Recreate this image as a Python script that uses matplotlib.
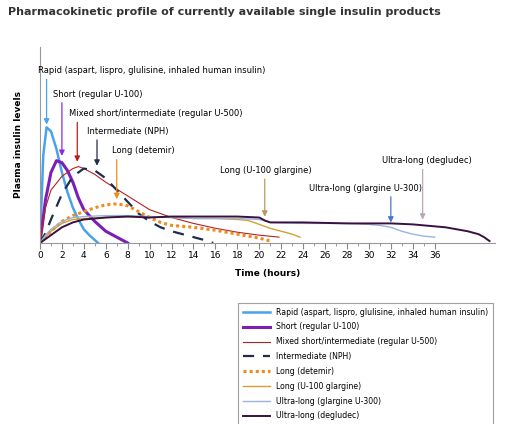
import matplotlib.pyplot as plt
import numpy as np

# hours and relative plasma insulin levels
rapid_t = [0, 0.3, 0.6, 1.0, 1.5, 2.0, 2.5, 3.0, 3.5, 4.0, 4.5, 5.0, 5.3]
rapid_v = [0, 45, 59, 57, 48, 36, 26, 18, 12, 7, 4, 1.5, 0]

short_t = [0, 0.5, 1.0, 1.5, 2.0, 2.5, 3.0, 3.5, 4.0, 5.0, 6.0, 7.0, 8.0]
short_v = [0, 22, 36, 42, 41, 37, 31, 23, 17, 11, 6, 3, 0]

mixed_t = [0, 0.5, 1.0, 2.0, 3.0, 3.5, 4.0, 5.0, 6.0, 8.0, 10.0, 12.0, 14.0, 16.0, 18.0, 20.0, 21.8]
mixed_v = [0, 18, 27, 34, 38, 39, 38, 35, 31, 24, 17, 13, 10, 7.5, 5.5, 4, 3]

nph_t = [0, 0.5, 1.0, 2.0, 3.0, 4.0, 5.0, 6.0, 7.0, 8.0, 9.0, 10.0, 11.0, 12.0, 13.0, 14.0, 15.0, 15.8]
nph_v = [0, 5, 12, 25, 34, 38, 37, 33, 27, 21, 15, 11, 8, 6, 4.5, 3, 1.5, 0]

detemir_t = [0, 1, 2, 3, 4, 5, 6, 7, 8, 9, 10, 11, 12, 14, 16, 18, 20, 21]
detemir_v = [0, 6, 11, 14, 16, 18, 19.5, 20, 19, 16, 13, 10.5, 9, 8, 6.5, 4.5, 2.5, 1]

glar_t = [0, 0.5, 1, 2, 3, 4, 6, 8, 10, 12, 14, 16, 18, 19, 20, 21, 22, 23, 23.7]
glar_v = [0, 3, 6, 10, 12, 12.5, 13, 13.5, 13.5, 13, 12.5, 12.5, 12, 11.5, 9.5, 7.5, 6, 4.5, 3]

u300_t = [0, 0.5, 1, 2, 3, 4, 6, 8, 10, 12, 14, 16, 18, 20, 21, 24, 28, 30, 31, 32, 33, 34, 35, 36]
u300_v = [0, 4, 7, 11, 13, 13.5, 14, 14, 13.5, 13, 12.5, 12.5, 12.5, 12, 10.5, 10, 10, 9.5, 9, 8, 6, 4.5, 3.5, 3]

degl_t = [0, 0.5, 1, 2, 3, 4, 6, 8, 10, 12, 14, 16, 18, 20, 20.5, 21, 24, 28, 32, 34, 35, 36, 37, 38, 39, 40, 40.5, 41]
degl_v = [0, 2, 4, 8, 10.5, 12, 13, 13.5, 13, 13.5, 13.5, 13.5, 13.5, 13, 11.5, 10.5, 10.5, 10, 10, 9.5, 9, 8.5, 8, 7, 6, 4.5, 3, 1]

series = [
    ("Rapid (aspart, lispro, glulisine, inhaled human insulin)", rapid_t, rapid_v, "#4aa3e8", 1.8, "-"),
    ("Short (regular U-100)", short_t, short_v, "#7b1fb8", 2.2, "-"),
    ("Mixed short/intermediate (regular U-500)", mixed_t, mixed_v, "#b22222", 0.8, "-"),
    ("Intermediate (NPH)", nph_t, nph_v, "#1f2d4d", 1.6, (0, (5, 4))),
    ("Long (detemir)", detemir_t, detemir_v, "#f08a1c", 2.2, (0, (1, 1))),
    ("Long (U-100 glargine)", glar_t, glar_v, "#d4a030", 1.0, "-"),
    ("Ultra-long (glargine U-300)", u300_t, u300_v, "#9ab4e0", 1.0, "-"),
    ("Ultra-long (degludec)", degl_t, degl_v, "#3a1040", 1.4, "-"),
]

# label text, text position, arrow tip, arrow colour
notes = [
    ("Rapid (aspart, lispro, glulisine, inhaled human insulin)", (-0.2, 88), (0.6, 59), "#4aa3e8"),
    ("Short (regular U-100)", (1.2, 76), (2.0, 43), "#8a2be2"),
    ("Mixed short/intermediate (regular U-500)", (2.6, 66), (3.4, 40), "#b22222"),
    ("Intermediate (NPH)", (4.3, 57), (5.2, 38), "#1f2d4d"),
    ("Long (detemir)", (6.6, 47), (7.0, 21), "#f08a1c"),
    ("Long (U-100 glargine)", (16.4, 37), (20.5, 12), "#b89a60"),
    ("Ultra-long (glargine U-300)", (24.5, 28), (32, 9), "#4a78c8"),
    ("Ultra-long (degludec)", (31.2, 42), (34.9, 10.5), "#b8a8b8"),
]

fig = plt.figure(figsize=(5.12, 4.24), dpi=100)
ax = fig.add_axes([40 / 512, 1 - 243 / 424, 455 / 512, 196 / 424])

for label, t, v, c, lw, ls in series:
    ax.plot(t, v, color=c, lw=lw, ls=ls, label=label)

for txt, xy_text, xy, c in notes:
    ax.annotate("", xy=xy, xytext=(xy[0], xy_text[1] - 3),
                arrowprops=dict(arrowstyle="-|>", color=c, lw=0.9, mutation_scale=8))
    ax.text(xy_text[0], xy_text[1], txt, fontsize=6, va="center", ha="left")

ax.set_xlim(0, 41.5)
ax.set_ylim(0, 100)
ax.set_xticks(np.arange(0, 37, 2))
ax.set_xticks(np.arange(0, 37, 1), minor=True)
ax.tick_params(axis="x", labelsize=6.5, length=4, color="#888888", pad=2)
ax.tick_params(axis="x", which="minor", length=2.5, color="#888888")
ax.set_yticks([])
for s in ["top", "right"]:
    ax.spines[s].set_visible(False)
ax.spines["left"].set_color("#999999")
ax.spines["bottom"].set_color("#999999")
ax.set_xlabel("Time (hours)", fontsize=6.5, fontweight="bold", labelpad=6)
ax.set_ylabel("Plasma insulin levels", fontsize=6.5, fontweight="bold", labelpad=12)

fig.text(8 / 512, 1 - 12 / 424, "Pharmacokinetic profile of currently available single insulin products",
         fontsize=8, fontweight="bold", va="center", color="#333333")

leg = fig.legend(loc="upper left", bbox_to_anchor=(234 / 512, 1 - 299 / 424), fontsize=5.6,
                 frameon=True, fancybox=False, edgecolor="#888888", handlelength=3.5,
                 labelspacing=0.75, borderpad=0.6)
leg.get_frame().set_linewidth(0.8)

fig.savefig("out.png", dpi=100)
